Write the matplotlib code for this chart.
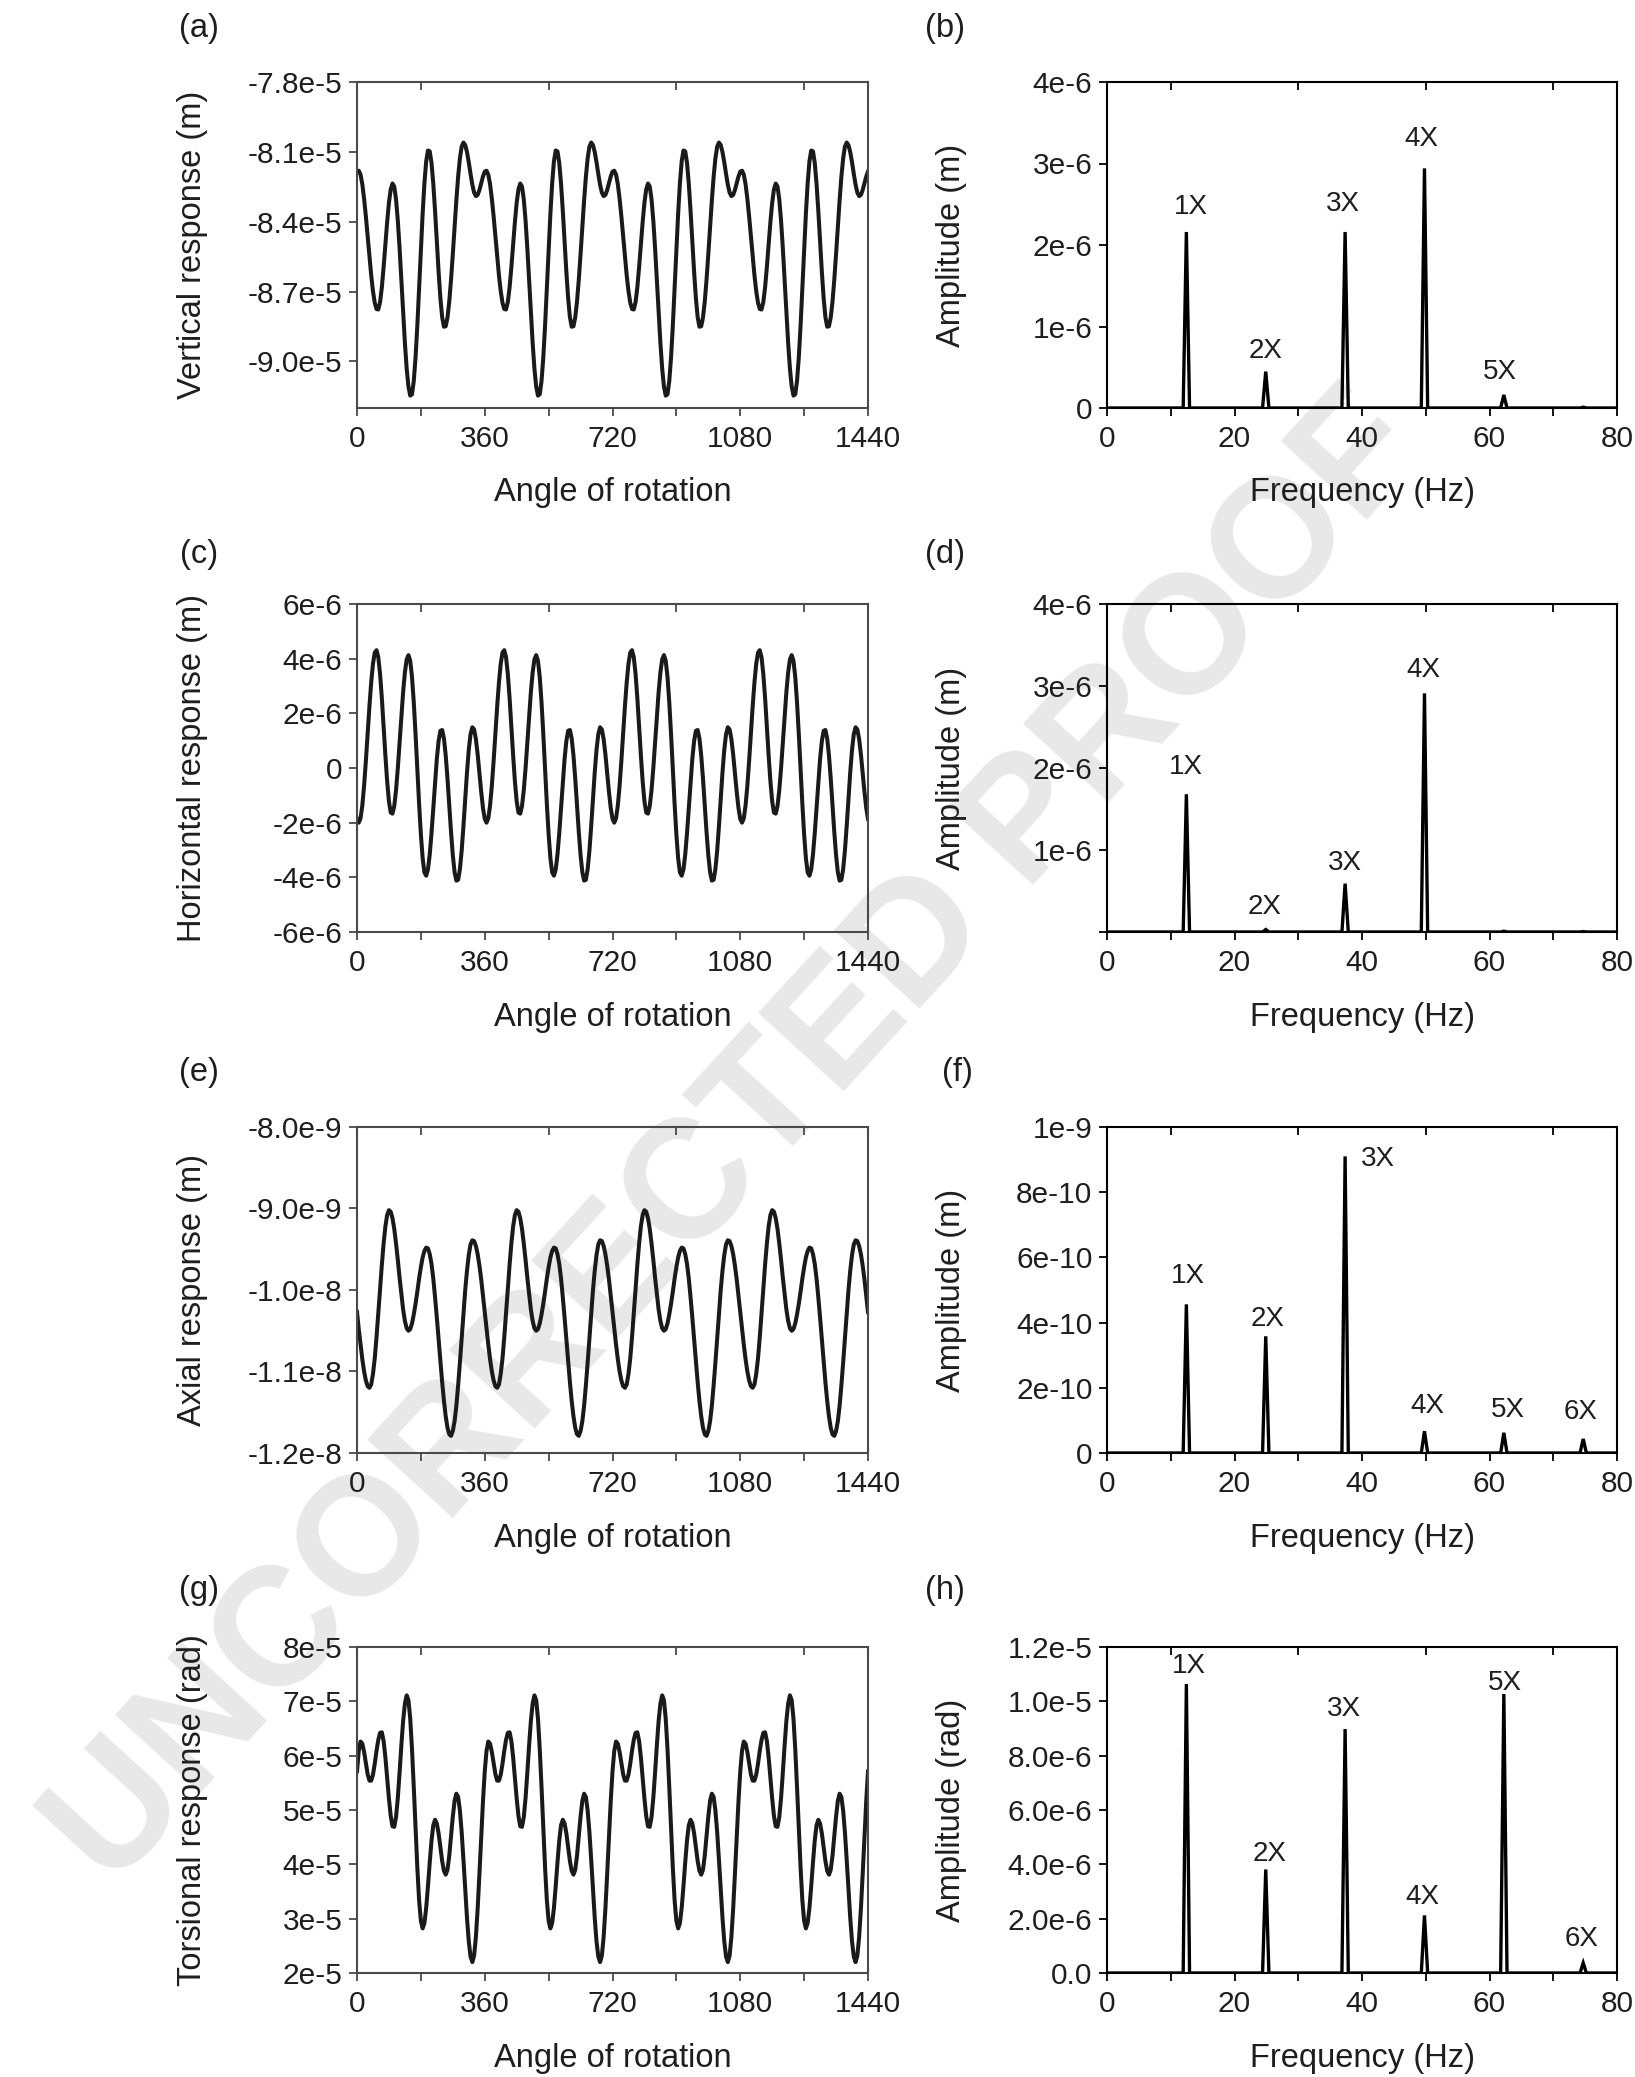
import numpy as np
import matplotlib
matplotlib.use('Agg')
import matplotlib.pyplot as plt
from matplotlib.ticker import MultipleLocator

plt.rcParams['font.family'] = ['Liberation Sans', 'DejaVu Sans']

# ---------------- data (one revolution, read every 5 degrees) ----------------
angle_deg = list(range(0, 1445, 5))
vertical_rev_1e5 = [-8.185,-8.181,-8.198,-8.239,-8.301,-8.377,-8.463,-8.549,-8.630,-8.698,-8.748,-8.775,-8.777,-8.745,-8.682,-8.595,-8.498,-8.401,-8.318,-8.261,-8.236,-8.249,-8.304,-8.395,-8.514,-8.650,-8.790,-8.921,-9.031,-9.108,-9.147,-9.141,-9.084,-8.983,-8.846,-8.686,-8.521,-8.365,-8.234,-8.140,-8.094,-8.098,-8.148,-8.237,-8.354,-8.486,-8.616,-8.728,-8.810,-8.851,-8.849,-8.811,-8.743,-8.649,-8.539,-8.422,-8.308,-8.207,-8.128,-8.077,-8.060,-8.071,-8.101,-8.145,-8.195,-8.241,-8.275,-8.290,-8.285,-8.264,-8.235,-8.206]
horizontal_rev_1e6 = [-1.86,-2.00,-1.84,-1.37,-0.65,0.26,1.26,2.25,3.13,3.81,4.22,4.31,4.05,3.44,2.56,1.52,0.46,-0.49,-1.22,-1.63,-1.67,-1.39,-0.81,-0.01,0.92,1.89,2.78,3.50,3.97,4.13,3.92,3.33,2.40,1.24,-0.04,-1.31,-2.43,-3.30,-3.82,-3.94,-3.71,-3.16,-2.38,-1.46,-0.51,0.34,0.99,1.36,1.39,1.08,0.46,-0.39,-1.36,-2.34,-3.19,-3.81,-4.12,-4.09,-3.70,-3.02,-2.12,-1.12,-0.15,0.67,1.24,1.49,1.41,1.06,0.50,-0.18,-0.87,-1.46]
axial_rev_1e9 = [-10.27,-10.48,-10.67,-10.85,-11.00,-11.11,-11.18,-11.20,-11.16,-11.03,-10.84,-10.58,-10.29,-9.99,-9.69,-9.43,-9.22,-9.08,-9.02,-9.04,-9.12,-9.25,-9.43,-9.63,-9.85,-10.05,-10.24,-10.38,-10.47,-10.50,-10.48,-10.41,-10.30,-10.17,-10.02,-9.86,-9.72,-9.60,-9.52,-9.48,-9.49,-9.56,-9.68,-9.86,-10.09,-10.34,-10.61,-10.87,-11.13,-11.36,-11.55,-11.69,-11.77,-11.79,-11.73,-11.61,-11.42,-11.17,-10.89,-10.59,-10.29,-10.00,-9.76,-9.57,-9.44,-9.39,-9.40,-9.46,-9.56,-9.70,-9.87,-10.07]
torsional_rev_1e5 = [5.71,6.09,6.26,6.22,6.07,5.86,5.66,5.54,5.54,5.65,5.85,6.09,6.29,6.42,6.43,6.27,5.97,5.59,5.21,4.89,4.70,4.69,4.87,5.22,5.69,6.19,6.64,6.96,7.11,7.02,6.68,6.12,5.42,4.66,3.94,3.34,2.96,2.82,2.92,3.20,3.60,4.04,4.44,4.72,4.82,4.75,4.57,4.32,4.06,3.88,3.81,3.90,4.16,4.52,4.88,5.17,5.30,5.24,4.99,4.59,4.08,3.53,3.01,2.58,2.30,2.20,2.32,2.66,3.18,3.82,4.51,5.16]

harmonic_labels = ['1X', '2X', '3X', '4X', '5X', '6X']
harmonic_freq_hz = [12.45, 24.9, 37.35, 49.8, 62.25, 74.7]
amp_vertical = [2.16e-6, 0.447e-6, 2.16e-6, 2.94e-6, 0.16e-6, 0.01e-6]
amp_horizontal = [1.68e-6, 0.03e-6, 0.59e-6, 2.91e-6, 0.01e-6, 0.005e-6]
amp_axial = [4.56e-10, 3.58e-10, 9.10e-10, 0.67e-10, 0.62e-10, 0.43e-10]
amp_torsional = [10.64e-6, 3.81e-6, 8.98e-6, 2.12e-6, 10.27e-6, 0.37e-6]


def four_revs(rev, scale):
    # the response repeats every revolution (360 deg); 0-1440 deg = 4 revolutions
    vals = (rev * 4) + [rev[0]]
    return np.array(vals) * scale


time_panels = [
    dict(tag='(a)', y=four_revs(vertical_rev_1e5, 1e-5), ylabel='Vertical response (m)',
         yticks=[-7.8e-5, -8.1e-5, -8.4e-5, -8.7e-5, -9.0e-5],
         ylabels=['-7.8e-5', '-8.1e-5', '-8.4e-5', '-8.7e-5', '-9.0e-5'], ylim=(-9.2e-5, -7.8e-5)),
    dict(tag='(c)', y=four_revs(horizontal_rev_1e6, 1e-6), ylabel='Horizontal response (m)',
         yticks=[6e-6, 4e-6, 2e-6, 0, -2e-6, -4e-6, -6e-6],
         ylabels=['6e-6', '4e-6', '2e-6', '0', '-2e-6', '-4e-6', '-6e-6'], ylim=(-6e-6, 6e-6)),
    dict(tag='(e)', y=four_revs(axial_rev_1e9, 1e-9), ylabel='Axial response (m)',
         yticks=[-8e-9, -9e-9, -1.0e-8, -1.1e-8, -1.2e-8],
         ylabels=['-8.0e-9', '-9.0e-9', '-1.0e-8', '-1.1e-8', '-1.2e-8'], ylim=(-1.2e-8, -8e-9)),
    dict(tag='(g)', y=four_revs(torsional_rev_1e5, 1e-5), ylabel='Torsional response (rad)',
         yticks=[8e-5, 7e-5, 6e-5, 5e-5, 4e-5, 3e-5, 2e-5],
         ylabels=['8e-5', '7e-5', '6e-5', '5e-5', '4e-5', '3e-5', '2e-5'], ylim=(2e-5, 8e-5)),
]

freq_panels = [
    dict(tag='(b)', amps=amp_vertical, nlab=5, ylabel='Amplitude (m)',
         yticks=[0, 1e-6, 2e-6, 3e-6, 4e-6], ylabels=['0', '1e-6', '2e-6', '3e-6', '4e-6'], ylim=(0, 4e-6),
         offs=[(5, 25), (0, 21), (-2, 28), (-3, 29), (-4, 23)]),
    dict(tag='(d)', amps=amp_horizontal, nlab=4, ylabel='Amplitude (m)',
         yticks=[0, 1e-6, 2e-6, 3e-6, 4e-6], ylabels=['', '1e-6', '2e-6', '3e-6', '4e-6'], ylim=(0, 4e-6),
         offs=[(0, 27), (-1, 23), (0, 21), (-1, 23)]),
    dict(tag='(f)', amps=amp_axial, nlab=6, ylabel='Amplitude (m)',
         yticks=[0, 2e-10, 4e-10, 6e-10, 8e-10, 1e-9],
         ylabels=['0', '2e-10', '4e-10', '6e-10', '8e-10', '1e-9'], ylim=(0, 1e-9),
         offs=[(2, 28), (2, 17), (33, -3), (3, 25), (4, 23), (-3, 27)]),
    dict(tag='(h)', amps=amp_torsional, nlab=6, ylabel='Amplitude (rad)',
         yticks=[0, 2e-6, 4e-6, 6e-6, 8e-6, 1e-5, 1.2e-5],
         ylabels=['0.0', '2.0e-6', '4.0e-6', '6.0e-6', '8.0e-6', '1.0e-5', '1.2e-5'], ylim=(0, 1.2e-5),
         offs=[(3, 18), (4, 15), (-1, 20), (-2, 18), (1, 11), (-2, 24)]),
]

# ---------------- layout ----------------
W, H = 1635, 2077
DPI = 100
fig = plt.figure(figsize=(W / DPI, H / DPI), dpi=DPI)
rows_px = [(82, 408), (604, 932), (1127, 1453), (1647, 1973)]
tag_y_px = [29, 554, 1073, 1590]
left_x = (357, 868)
right_x = (1107, 1617)
TICK_FS = 21.5
LABEL_FS = 23.5
ANN_FS = 20
TXT = '#1e1e1e'

fig.text(738 / W, 1 - 1142 / H, 'UNCORRECTED PROOF', rotation=47.5, fontsize=121,
         fontweight='bold', color='#e8e8e8', ha='center', va='center', zorder=-5)


def make_ax(xpx, ypx):
    x0, x1 = xpx
    t, b = ypx
    ax = fig.add_axes([x0 / W, 1 - b / H, (x1 - x0) / W, (b - t) / H])
    ax.set_facecolor('none')
    return ax


def style(ax, spine_color, major, minor, xlim):
    for s in ax.spines.values():
        s.set_color(spine_color)
        s.set_linewidth(1.5)
    ax.set_xlim(*xlim)
    ax.xaxis.set_major_locator(MultipleLocator(major))
    ax.xaxis.set_minor_locator(MultipleLocator(minor))
    ax.tick_params(which='both', direction='out', length=5.5, width=1.3, colors=spine_color,
                   labelcolor=TXT, labelsize=TICK_FS, top=False, right=False)
    ax.tick_params(axis='x', which='both', pad=7)
    ax.tick_params(axis='y', which='both', pad=5)
    sec = ax.secondary_xaxis('top')
    sec.set_xticks(np.arange(minor, xlim[1], 2 * minor))
    sec.tick_params(direction='in', length=5.5, width=1.3, colors=spine_color, labeltop=False)
    sec.spines['top'].set_visible(False)


for i, p in enumerate(time_panels):
    ax = make_ax(left_x, rows_px[i])
    ax.plot(angle_deg, p['y'], color='#1a1a1a', lw=2.9, solid_joinstyle='round')
    style(ax, '#4a4a4a', 360, 180, (0, 1440))
    ax.set_ylim(*p['ylim'])
    ax.set_yticks(p['yticks'], p['ylabels'])
    ax.set_xlabel('Angle of rotation', fontsize=LABEL_FS, color=TXT)
    ax.set_ylabel(p['ylabel'], fontsize=LABEL_FS, color=TXT)
    ax.xaxis.label.set_va('center')
    ax.yaxis.label.set_va('center')
    ax.xaxis.set_label_coords(0.5, -85 / 326)
    ax.yaxis.set_label_coords((192 - 357) / 511, 0.5)
    fig.text(199 / W, 1 - tag_y_px[i] / H, p['tag'], fontsize=LABEL_FS, color=TXT, ha='center', va='center')

HW = 0.5
for i, p in enumerate(freq_panels):
    ax = make_ax(right_x, rows_px[i])
    fx, fy = [0.0], [0.0]
    for f, a in zip(harmonic_freq_hz, p['amps']):
        fx += [f - HW, f, f + HW]
        fy += [0.0, a, 0.0]
    fx.append(80.0)
    fy.append(0.0)
    ax.plot(fx, fy, color='black', lw=2.4, solid_joinstyle='miter')
    style(ax, 'black', 20, 10, (0, 80))
    ax.set_ylim(*p['ylim'])
    ax.set_yticks(p['yticks'], p['ylabels'])
    for k in range(p['nlab']):
        dx, dy = p['offs'][k]
        ax.annotate(harmonic_labels[k], xy=(harmonic_freq_hz[k], p['amps'][k]),
                    xytext=(dx * 0.72, dy * 0.72), textcoords='offset points',
                    ha='center', va='center', fontsize=ANN_FS, color=TXT)
    ax.set_xlabel('Frequency (Hz)', fontsize=LABEL_FS, color=TXT)
    ax.set_ylabel(p['ylabel'], fontsize=LABEL_FS, color=TXT)
    ax.xaxis.label.set_va('center')
    ax.yaxis.label.set_va('center')
    ax.xaxis.set_label_coords(0.5, -85 / 326)
    ax.yaxis.set_label_coords((951 - 1107) / 510, 0.5)
    tx = 957 if p['tag'] == '(f)' else 945
    fig.text(tx / W, 1 - tag_y_px[i] / H, p['tag'], fontsize=LABEL_FS, color=TXT, ha='center', va='center')

fig.savefig('out.png', dpi=DPI)
